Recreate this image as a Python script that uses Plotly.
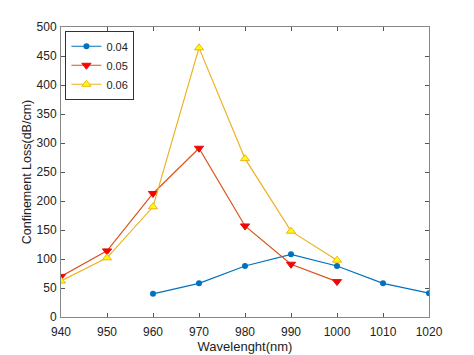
import plotly.graph_objects as go

wl_04 = [960, 970, 980, 990, 1000, 1010, 1020]
loss_04 = [40, 58, 88, 108, 88, 58, 41]
wl_05 = [940, 950, 960, 970, 980, 990, 1000]
loss_05 = [70, 114, 213, 291, 157, 91, 61]
wl_06 = [940, 950, 960, 970, 980, 990, 1000]
loss_06 = [62, 102, 190, 464, 273, 148, 98]
x_ticks = [940, 950, 960, 970, 980, 990, 1000, 1010, 1020]
y_ticks = [0, 50, 100, 150, 200, 250, 300, 350, 400, 450, 500]

fig = go.Figure()
fig.add_trace(go.Scatter(x=wl_04, y=loss_04, name="0.04", mode="lines+markers",
                         line=dict(color="#0072BD", width=1.2),
                         marker=dict(symbol="circle", size=6, color="#0072BD")))
fig.add_trace(go.Scatter(x=wl_05, y=loss_05, name="0.05", mode="lines+markers",
                         line=dict(color="#D95319", width=1.2),
                         marker=dict(symbol="triangle-down", size=8, color="#FF0000",
                                     line=dict(color="#E01010", width=1))))
fig.add_trace(go.Scatter(x=wl_06, y=loss_06, name="0.06", mode="lines+markers",
                         line=dict(color="#EDB120", width=1.2),
                         marker=dict(symbol="triangle-up", size=8, color="#FFFF00",
                                     line=dict(color="#EDB120", width=1))))

axis_common = dict(showgrid=False, zeroline=False, showline=True, linecolor="#888888",
                   linewidth=1, mirror="ticks", ticks="inside", ticklen=4,
                   tickcolor="#555555", tickfont=dict(size=12, color="#222222"),
                   automargin=False)
fig.update_xaxes(range=[940, 1020], tickvals=x_ticks, ticklabelstandoff=4,
                 title=dict(text="Wavelenght(nm)", font=dict(size=13, color="#222222"), standoff=0),
                 **axis_common)
fig.update_yaxes(range=[0, 500], tickvals=y_ticks, ticklabelstandoff=1,
                 title=dict(text="Confinement Loss(dB/cm)", font=dict(size=12.5, color="#222222"), standoff=2),
                 **axis_common)
fig.update_layout(
    width=466, height=347,
    margin=dict(l=53, r=45, t=19, b=38),
    paper_bgcolor="white", plot_bgcolor="white",
    font=dict(family="Liberation Sans, Arial, sans-serif", color="#222222"),
    legend=dict(x=0.012, y=0.987, xanchor="left", yanchor="top",
                bgcolor="white", bordercolor="#333333", borderwidth=1,
                font=dict(size=11), tracegroupgap=0, itemwidth=30),
    showlegend=True,
)
fig.write_html("out.html")
